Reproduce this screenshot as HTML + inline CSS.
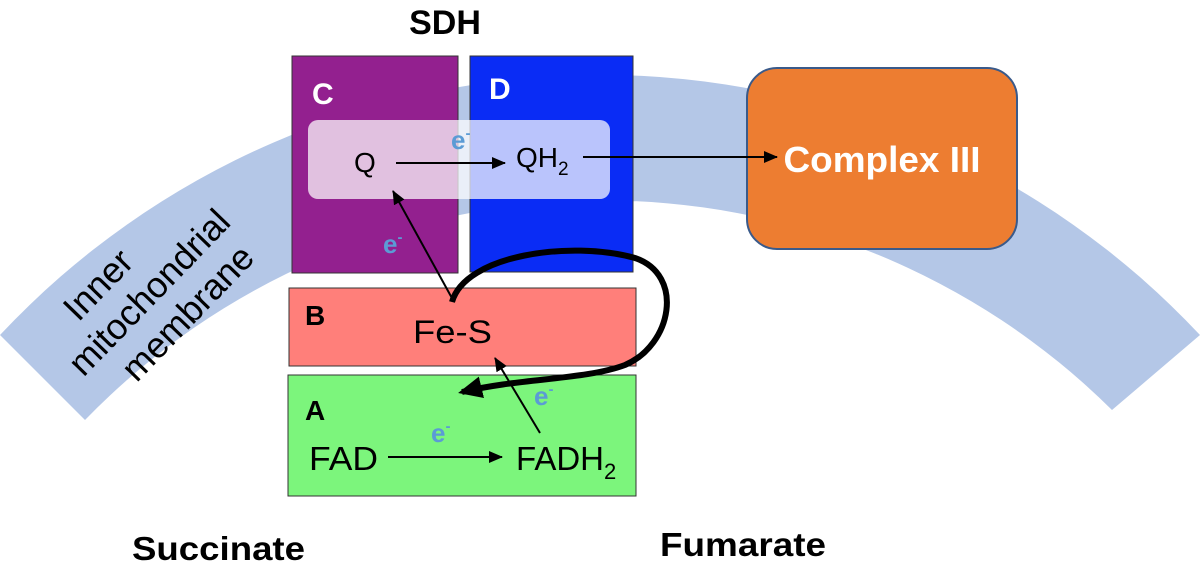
<!DOCTYPE html>
<html><head><style>
body{margin:0;width:1200px;height:562px;background:#fff;overflow:hidden;font-family:"Liberation Sans",Arial,sans-serif}
</style></head><body>
<svg width="1200" height="562" xmlns="http://www.w3.org/2000/svg" font-family="Liberation Sans, Arial, sans-serif">
<defs>
<marker id="ah" markerWidth="14" markerHeight="12" refX="13" refY="6" orient="auto" markerUnits="userSpaceOnUse"><path d="M0,0 L14,6 L0,12 z" fill="#000"/></marker>
<marker id="ahs" markerWidth="24" markerHeight="22" refX="20" refY="11" orient="auto" markerUnits="userSpaceOnUse"><path d="M0,0 L24,11 L0,22 z" fill="#000"/></marker>
</defs>
<path d="M0,335 A822,822 0 0 1 1200,335 L1112,410 A722,722 0 0 0 85,420 Z" fill="#b4c7e7"/>
<text transform="translate(155,298) rotate(-46)" font-size="36" text-anchor="middle" fill="#000"><tspan x="-30" y="-38">Inner</tspan><tspan x="0" y="4">mitochondrial</tspan><tspan x="12" y="46">membrane</tspan></text>
<rect x="292" y="56" width="166" height="217" fill="#93208f" stroke="#333"/>
<rect x="470" y="56" width="163" height="216" fill="#0a2cf5" stroke="#333"/>
<rect x="289" y="288" width="347" height="78" fill="#ff7f7a" stroke="#333"/>
<rect x="288" y="375" width="348" height="121" fill="#7cf57c" stroke="#333"/>
<rect x="308" y="120" width="302" height="79" rx="10" fill="#fff" fill-opacity="0.72"/>
<rect x="747" y="68" width="270" height="181" rx="30" fill="#ed7d31" stroke="#3a5a8a" stroke-width="2"/>
<text x="882" y="172" font-size="36" font-weight="bold" fill="#fff" text-anchor="middle" textLength="197" lengthAdjust="spacingAndGlyphs">Complex III</text>
<text x="445" y="34" font-size="34" font-weight="bold" text-anchor="middle">SDH</text>
<text x="312" y="104" font-size="30" font-weight="bold" fill="#fff">C</text>
<text x="489" y="99" font-size="30" font-weight="bold" fill="#fff">D</text>
<text x="305" y="325" font-size="28" font-weight="bold">B</text>
<text x="305" y="420" font-size="28" font-weight="bold">A</text>
<text x="354" y="172" font-size="28">Q</text>
<text x="516" y="167" font-size="28">QH<tspan font-size="19" dy="8">2</tspan></text>
<text x="413" y="343" font-size="32" textLength="79" lengthAdjust="spacingAndGlyphs">Fe-S</text>
<text x="309" y="470" font-size="33" textLength="69" lengthAdjust="spacingAndGlyphs">FAD</text>
<text x="516" y="470" font-size="33">FADH<tspan font-size="22" dy="9">2</tspan></text>
<g fill="#5b9bd5" font-weight="bold" font-size="26">
<text x="451" y="149">e<tspan font-size="15" dy="-11">-</tspan></text>
<text x="383" y="253">e<tspan font-size="15" dy="-11">-</tspan></text>
<text x="534" y="405">e<tspan font-size="15" dy="-11">-</tspan></text>
<text x="431" y="442">e<tspan font-size="15" dy="-11">-</tspan></text>
</g>
<g stroke="#000" stroke-width="2" fill="none">
<line x1="396" y1="163" x2="505" y2="163" marker-end="url(#ah)"/>
<line x1="583" y1="157" x2="777" y2="157" marker-end="url(#ah)"/>
<line x1="388" y1="457" x2="502" y2="457" marker-end="url(#ah)"/>
<line x1="540" y1="433" x2="495" y2="358" marker-end="url(#ah)"/>
<line x1="453" y1="300" x2="393" y2="191" marker-end="url(#ah)"/>
<path d="M452,302 C465,255 570,240 635,258 C685,275 672,345 625,365 C585,380 520,378 462,392" stroke-width="6" marker-end="url(#ahs)"/>
</g>
<text x="132" y="560" font-size="33" font-weight="bold" textLength="173" lengthAdjust="spacingAndGlyphs">Succinate</text>
<text x="660" y="556" font-size="33" font-weight="bold" textLength="166" lengthAdjust="spacingAndGlyphs">Fumarate</text>
</svg>
</body></html>
